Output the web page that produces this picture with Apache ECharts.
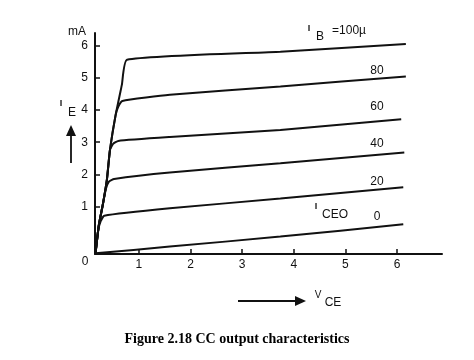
<!DOCTYPE html>
<html><head><meta charset="utf-8">
<script src="https://cdn.jsdelivr.net/npm/echarts@6/dist/echarts.min.js"></script>
<style>html,body{margin:0;padding:0;background:#fff}#c{width:474px;height:360px}</style>
</head><body><div id="c"></div>
<script>
// Axis tick labels
const xTicks = [1, 2, 3, 4, 5, 6];
const yTicks = [1, 2, 3, 4, 5, 6];
// Curve names (I_B in µA)
const curveNames = ['100', '80', '60', '40', '20', '0'];
// Curves: [V_CE (V), I_E (mA)]
const ib100 = [[0.16,-0.45],[0.225,0.43],[0.30,1.05],[0.38,1.83],[0.44,2.76],[0.55,3.85],[0.67,4.78],[0.77,5.56],[3.74,5.81],[6.17,6.05]];
const ib80  = [[0.16,-0.45],[0.225,0.43],[0.30,1.05],[0.38,1.83],[0.44,2.76],[0.55,3.85],[0.60,4.10],[0.68,4.28],[1.60,4.47],[3.74,4.73],[6.17,5.04]];
const ib60  = [[0.16,-0.45],[0.225,0.43],[0.30,1.05],[0.38,1.83],[0.44,2.76],[0.50,2.95],[0.60,3.04],[1.60,3.16],[3.74,3.38],[6.08,3.71]];
const ib40  = [[0.16,-0.45],[0.225,0.43],[0.30,1.05],[0.36,1.55],[0.42,1.78],[0.52,1.86],[1.60,2.06],[3.74,2.35],[6.14,2.68]];
const ib20  = [[0.16,-0.45],[0.21,0.25],[0.26,0.55],[0.33,0.72],[1.60,0.95],[3.74,1.25],[6.12,1.60]];
const iceo  = [[0.16,-0.45],[1.60,-0.24],[3.74,0.07],[6.12,0.45]];
const curves = [ib100, ib80, ib60, ib40, ib20, iceo];

const chart = echarts.init(document.getElementById('c'), null, {renderer: 'canvas'});
const FONT = 'Liberation Sans, Arial, sans-serif';
const INK = '#111';
const lbl = (t, x, y, size, weight) => ({
  type: 'text', x: x, y: y,
  style: {text: t, font: (weight || 'normal') + ' ' + (size || 12) + 'px ' + FONT, fill: INK, textAlign: 'center', textVerticalAlign: 'middle'}
});

chart.setOption({
  animation: false,
  backgroundColor: '#fff',
  grid: {left: 95, right: 32, top: 33, bottom: 106},
  xAxis: {
    type: 'value', min: 0.15, max: 6.87,
    axisLine: {show: true, onZero: false, lineStyle: {color: INK, width: 2}},
    axisTick: {show: true, inside: true, length: 5, lineStyle: {color: INK, width: 1.5}, customValues: xTicks},
    axisLabel: {show: true, customValues: xTicks, color: INK, fontSize: 12, fontFamily: FONT, margin: 5},
    splitLine: {show: false}
  },
  yAxis: {
    type: 'value', min: -0.47, max: 6.39,
    axisLine: {show: true, onZero: false, lineStyle: {color: INK, width: 2}},
    axisTick: {show: true, inside: true, length: 5, lineStyle: {color: INK, width: 1.5}, customValues: yTicks},
    axisLabel: {show: true, customValues: yTicks, color: INK, fontSize: 12, fontFamily: FONT, margin: 7},
    splitLine: {show: false}
  },
  series: curves.map((d, i) => ({
    type: 'line', name: curveNames[i], data: d, showSymbol: false, symbol: 'none',
    lineStyle: {color: INK, width: 2}, smooth: 0.15, z: 3
  })),
  graphic: [
    // y-axis annotations
    lbl('mA', 77, 32, 12),
    lbl('0', 85, 262, 12),
    lbl('I', 61, 104, 9, 'bold'),
    lbl('E', 72, 113, 12),
    {type: 'line', shape: {x1: 71, y1: 134, x2: 71, y2: 163}, style: {stroke: INK, lineWidth: 1.8}},
    {type: 'polygon', shape: {points: [[71, 125], [66, 136], [76, 136]]}, style: {fill: INK}},
    // x-axis name with arrow
    {type: 'line', shape: {x1: 238, y1: 301, x2: 297, y2: 301}, style: {stroke: INK, lineWidth: 1.8}},
    {type: 'polygon', shape: {points: [[306, 301], [295, 296], [295, 306]]}, style: {fill: INK}},
    lbl('V', 318, 295, 10),
    lbl('CE', 333, 303, 12),
    // curve labels
    lbl('I', 309, 29, 9, 'bold'),
    lbl('B', 320, 37, 12),
    lbl('=100µ', 349, 31, 12),
    lbl(curveNames[1], 377, 71, 12),
    lbl(curveNames[2], 377, 107, 12),
    lbl(curveNames[3], 377, 144, 12),
    lbl(curveNames[4], 377, 182, 12),
    lbl(curveNames[5], 377, 217, 12),
    lbl('I', 316, 207, 9, 'bold'),
    lbl('CEO', 335, 215, 12),
    // caption
    {type: 'text', x: 237, y: 339, style: {text: 'Figure 2.18 CC output characteristics', font: 'bold 14px Liberation Serif, Times New Roman, serif', fill: '#000', textAlign: 'center', textVerticalAlign: 'middle'}}
  ]
});
</script></body></html>
